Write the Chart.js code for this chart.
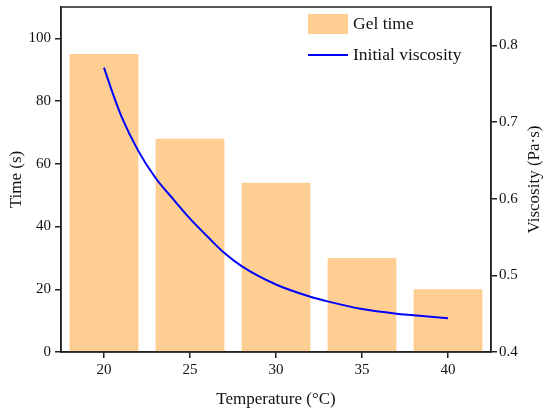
<!DOCTYPE html>
<html>
<head>
<meta charset="utf-8">
<script src="https://cdn.jsdelivr.net/npm/chart.js@4"></script>
<style>
  html, body { margin: 0; padding: 0; background: #fff; }
  #wrap { width: 550px; height: 413px; }
</style>
</head>
<body>
<div id="wrap"><canvas id="myChart"></canvas></div>
<script>
var temps = ['20', '25', '30', '35', '40'];
var gelTime = [95, 68, 54, 30, 20];
// viscosity curve
var viscT = [20, 20.5, 21, 22, 23, 24, 25, 26, 27, 28, 30, 32, 33, 35, 37, 38, 40];
var viscV = [0.771, 0.738, 0.708, 0.662, 0.627, 0.600, 0.574, 0.551, 0.529, 0.512, 0.488, 0.472, 0.466, 0.456, 0.450, 0.448, 0.444];

var barColor = '#FFCE93';
var lineColor = '#0000FF';
var axisColor = '#222222';
var textColor = '#111111';
var fontFam = '"Liberation Serif", "Times New Roman", serif';

var viscPoints = [];
for (var i = 0; i < viscT.length; i++) {
    viscPoints.push({x: viscT[i], y: viscV[i]});
}

// legend, right axis title and top/right frame
var framePlugin = {
    id: 'frame',
    afterDraw: function (chart) {
        var ctx = chart.ctx;
        var a = chart.chartArea;
        ctx.save();
        ctx.strokeStyle = axisColor;
        ctx.lineWidth = 1.5;
        ctx.strokeRect(a.left, a.top, a.right - a.left, a.bottom - a.top);

        var lx = a.right - 183;
        ctx.fillStyle = barColor;
        ctx.fillRect(lx, a.top + 7, 40, 20);
        ctx.strokeStyle = lineColor;
        ctx.lineWidth = 2;
        ctx.beginPath();
        ctx.moveTo(lx, a.top + 48);
        ctx.lineTo(lx + 40, a.top + 48);
        ctx.stroke();
        ctx.fillStyle = textColor;
        ctx.font = '17.5px ' + fontFam;
        ctx.textBaseline = 'middle';
        ctx.fillText('Gel time', lx + 45, a.top + 17);
        ctx.fillText('Initial viscosity', lx + 45, a.top + 48);

        // right title reads bottom to top like the left one
        ctx.font = '17px ' + fontFam;
        ctx.translate(chart.width - 15, (a.top + a.bottom) / 2);
        ctx.rotate(-Math.PI / 2);
        ctx.textAlign = 'center';
        ctx.fillText('Viscosity (Pa·s)', 0, 0);
        ctx.restore();
    }
};

var tickFont = {family: fontFam, size: 15};
var titleFont = {family: fontFam, size: 17};

function fixY(w) {
    return function (s) {
        s.width = w;
        s.paddingTop = 0;
        s.paddingBottom = 0;
    };
}

var ctx = document.getElementById('myChart').getContext('2d');
var chart = new Chart(ctx, {
    type: 'bar',
    data: {
        labels: temps,
        datasets: [{
            label: 'Gel time',
            data: gelTime,
            backgroundColor: barColor,
            borderWidth: 0,
            grouped: false,
            categoryPercentage: 1,
            barPercentage: 0.8,
            xAxisID: 'x',
            yAxisID: 'y',
            order: 2
        }, {
            type: 'line',
            label: 'Initial viscosity',
            data: viscPoints,
            borderColor: lineColor,
            borderWidth: 2,
            pointRadius: 0,
            cubicInterpolationMode: 'monotone',
            fill: false,
            xAxisID: 'xl',
            yAxisID: 'y2',
            order: 1
        }]
    },
    options: {
        responsive: true,
        maintainAspectRatio: false,
        animation: false,
        layout: {padding: {top: 7, left: 0, right: 0, bottom: 0}},
        plugins: {
            legend: {display: false},
            tooltip: {enabled: false}
        },
        scales: {
            x: {
                type: 'category',
                offset: true,
                grid: {display: true, offset: false, drawOnChartArea: false, tickLength: 6, color: axisColor, lineWidth: 1.5},
                border: {color: axisColor, width: 1.5},
                ticks: {color: textColor, font: tickFont, padding: 3, maxRotation: 0},
                title: {display: true, text: 'Temperature (°C)', color: textColor, font: titleFont, padding: {top: 4, bottom: 3}},
                afterFit: function (s) {
                    s.height = 61;
                    s.paddingLeft = 0;
                    s.paddingRight = 0;
                }
            },
            xl: {
                type: 'linear',
                display: false,
                offset: false,
                min: 17.5,
                max: 42.5
            },
            y: {
                position: 'left',
                min: 0,
                max: 110,
                grid: {display: true, drawOnChartArea: false, tickLength: 6, color: axisColor, lineWidth: 1.5},
                border: {color: axisColor, width: 1.5},
                ticks: {stepSize: 20, includeBounds: false, color: textColor, font: tickFont, padding: 4},
                title: {display: true, text: 'Time (s)', color: textColor, font: titleFont, padding: {top: 6, bottom: 2}},
                afterFit: fixY(61)
            },
            y2: {
                position: 'right',
                min: 0.4,
                max: 0.85,
                grid: {display: true, drawOnChartArea: false, tickLength: 6, color: axisColor, lineWidth: 1.5},
                border: {color: axisColor, width: 1.5},
                ticks: {
                    stepSize: 0.1,
                    includeBounds: false,
                    color: textColor,
                    font: tickFont,
                    padding: 2,
                    callback: function (v) { return Number(v).toFixed(1); }
                },
                title: {display: false},
                afterFit: fixY(59)
            }
        }
    },
    plugins: [framePlugin]
});
</script>
</body>
</html>
